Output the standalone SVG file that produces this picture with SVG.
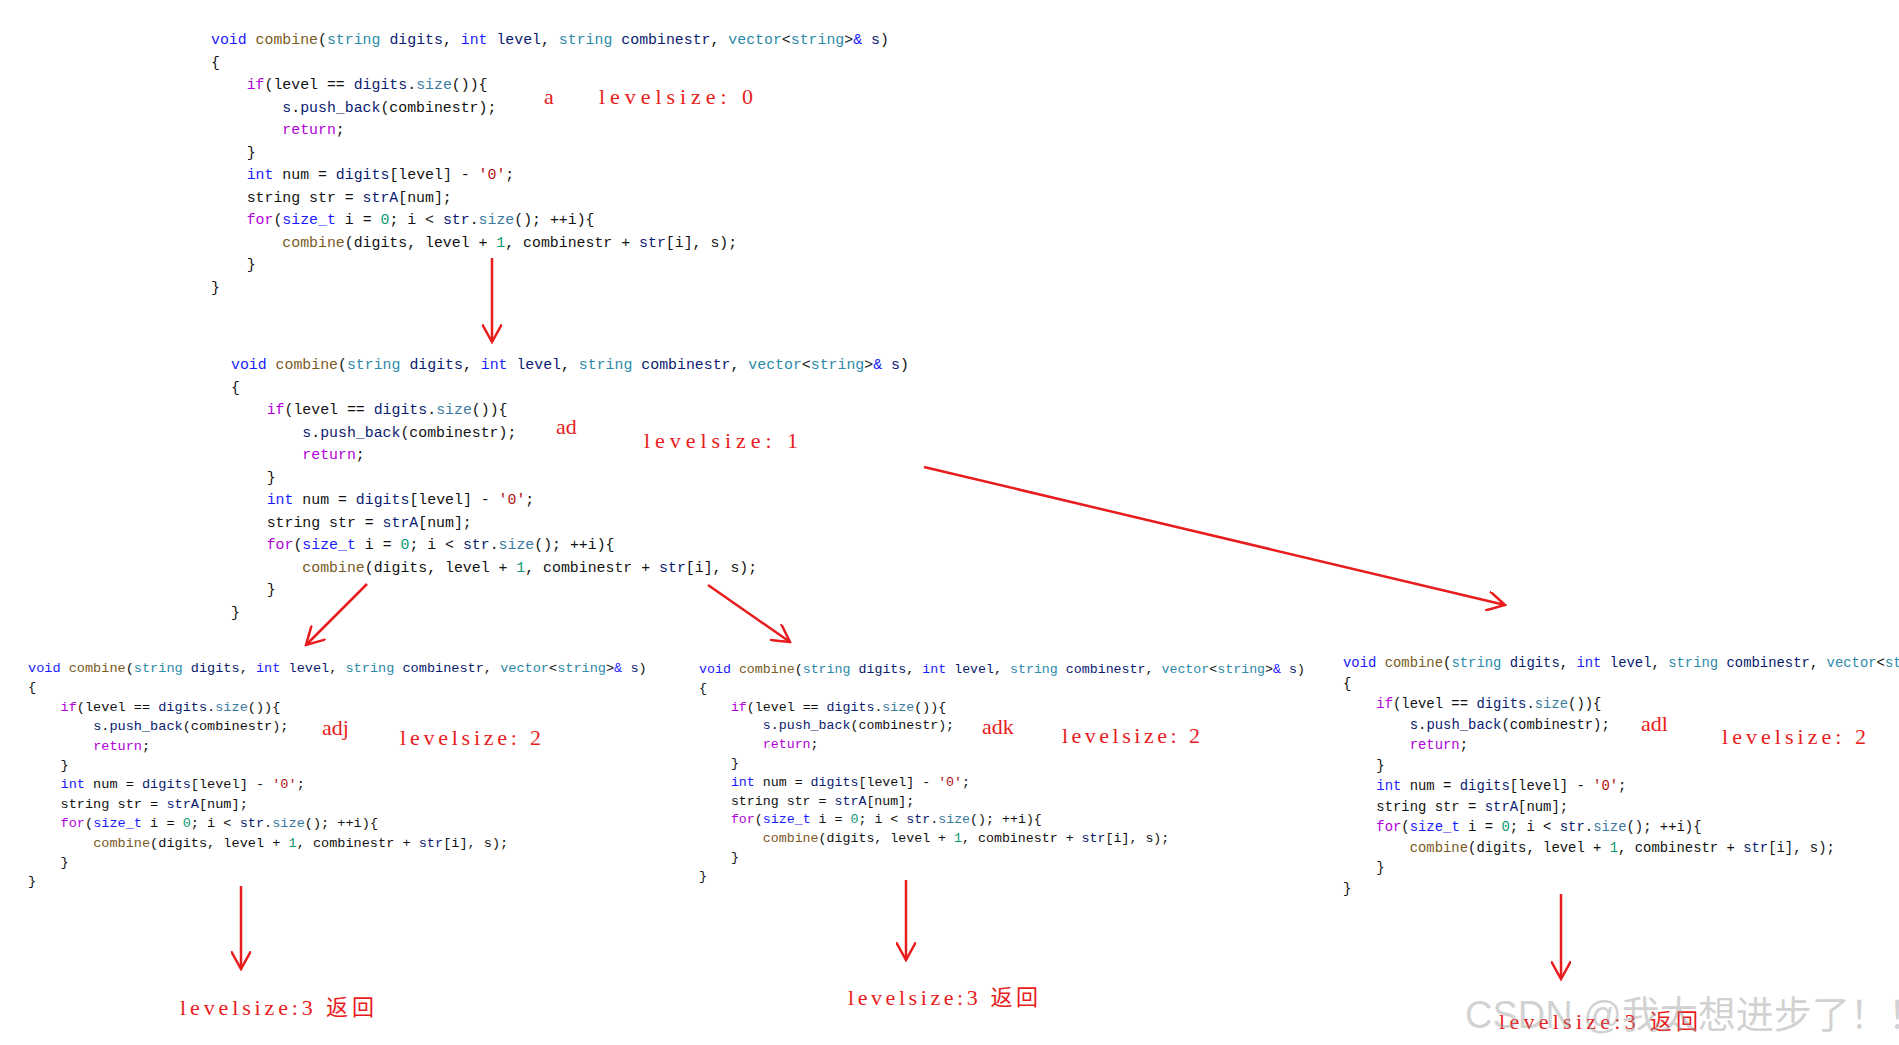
<svg xmlns="http://www.w3.org/2000/svg" width="1899" height="1045" viewBox="0 0 1899 1045">
<style>
.code text{font-family:"Liberation Mono",monospace;fill:#111;white-space:pre}
.k{fill:#1a1aff}.f{fill:#7a5a1e}.t{fill:#2b8aa8}.v{fill:#0a1a70}.c{fill:#b000d8}.n{fill:#0a9a70}.s{fill:#b01010}.z{fill:#3a7aa0}
.lbl{font-family:"Liberation Serif","Noto Sans CJK SC",serif;fill:#e81c1c;font-size:22px}
.arr{stroke:#e81c1c;stroke-width:2.5;fill:none}
</style>
<defs>
<marker id="ah" viewBox="0 0 20 20" refX="18" refY="10" markerWidth="20" markerHeight="20" markerUnits="userSpaceOnUse" orient="auto">
<polyline points="0,0 18,10 0,20" fill="none" stroke="#e81c1c" stroke-width="2.5"/>
</marker>
</defs>
<rect width="1899" height="1045" fill="#fff"/>

<g id="block1" class="code" transform="translate(211,44)" font-size="14.87" xml:space="preserve">
<text y="0"><tspan class="k">void</tspan> <tspan class="f">combine</tspan>(<tspan class="t">string</tspan> <tspan class="v">digits</tspan>, <tspan class="k">int</tspan> <tspan class="v">level</tspan>, <tspan class="t">string</tspan> <tspan class="v">combinestr</tspan>, <tspan class="t">vector</tspan>&lt;<tspan class="t">string</tspan>&gt;<tspan class="k">&amp;</tspan> <tspan class="v">s</tspan>)</text>
<text y="22.5">{</text>
<text y="45">    <tspan class="c">if</tspan>(level == <tspan class="v">digits</tspan>.<tspan class="z">size</tspan>()){</text>
<text y="67.5">        <tspan class="v">s</tspan>.<tspan class="v">push_back</tspan>(combinestr);</text>
<text y="90">        <tspan class="c">return</tspan>;</text>
<text y="112.5">    }</text>
<text y="135">    <tspan class="k">int</tspan> num = <tspan class="v">digits</tspan>[level] - <tspan class="s">'0'</tspan>;</text>
<text y="157.5">    string str = <tspan class="v">strA</tspan>[num];</text>
<text y="180">    <tspan class="c">for</tspan>(<tspan class="k">size_t</tspan> i = <tspan class="n">0</tspan>; i &lt; <tspan class="v">str</tspan>.<tspan class="z">size</tspan>(); ++i){</text>
<text y="202.5">        <tspan class="f">combine</tspan>(digits, level + <tspan class="n">1</tspan>, combinestr + <tspan class="v">str</tspan>[i], s);</text>
<text y="225">    }</text>
<text y="247.5">}</text>
</g>

<g id="block2" class="code" transform="translate(231,369)" font-size="14.87" xml:space="preserve">
<text y="0"><tspan class="k">void</tspan> <tspan class="f">combine</tspan>(<tspan class="t">string</tspan> <tspan class="v">digits</tspan>, <tspan class="k">int</tspan> <tspan class="v">level</tspan>, <tspan class="t">string</tspan> <tspan class="v">combinestr</tspan>, <tspan class="t">vector</tspan>&lt;<tspan class="t">string</tspan>&gt;<tspan class="k">&amp;</tspan> <tspan class="v">s</tspan>)</text>
<text y="22.5">{</text>
<text y="45">    <tspan class="c">if</tspan>(level == <tspan class="v">digits</tspan>.<tspan class="z">size</tspan>()){</text>
<text y="67.5">        <tspan class="v">s</tspan>.<tspan class="v">push_back</tspan>(combinestr);</text>
<text y="90">        <tspan class="c">return</tspan>;</text>
<text y="112.5">    }</text>
<text y="135">    <tspan class="k">int</tspan> num = <tspan class="v">digits</tspan>[level] - <tspan class="s">'0'</tspan>;</text>
<text y="157.5">    string str = <tspan class="v">strA</tspan>[num];</text>
<text y="180">    <tspan class="c">for</tspan>(<tspan class="k">size_t</tspan> i = <tspan class="n">0</tspan>; i &lt; <tspan class="v">str</tspan>.<tspan class="z">size</tspan>(); ++i){</text>
<text y="202.5">        <tspan class="f">combine</tspan>(digits, level + <tspan class="n">1</tspan>, combinestr + <tspan class="v">str</tspan>[i], s);</text>
<text y="225">    }</text>
<text y="247.5">}</text>
</g>

<g id="block3" class="code" transform="translate(28,672)" font-size="13.57" xml:space="preserve">
<text y="0"><tspan class="k">void</tspan> <tspan class="f">combine</tspan>(<tspan class="t">string</tspan> <tspan class="v">digits</tspan>, <tspan class="k">int</tspan> <tspan class="v">level</tspan>, <tspan class="t">string</tspan> <tspan class="v">combinestr</tspan>, <tspan class="t">vector</tspan>&lt;<tspan class="t">string</tspan>&gt;<tspan class="k">&amp;</tspan> <tspan class="v">s</tspan>)</text>
<text y="19.4">{</text>
<text y="38.8">    <tspan class="c">if</tspan>(level == <tspan class="v">digits</tspan>.<tspan class="z">size</tspan>()){</text>
<text y="58.2">        <tspan class="v">s</tspan>.<tspan class="v">push_back</tspan>(combinestr);</text>
<text y="77.6">        <tspan class="c">return</tspan>;</text>
<text y="97">    }</text>
<text y="116.4">    <tspan class="k">int</tspan> num = <tspan class="v">digits</tspan>[level] - <tspan class="s">'0'</tspan>;</text>
<text y="135.8">    string str = <tspan class="v">strA</tspan>[num];</text>
<text y="155.2">    <tspan class="c">for</tspan>(<tspan class="k">size_t</tspan> i = <tspan class="n">0</tspan>; i &lt; <tspan class="v">str</tspan>.<tspan class="z">size</tspan>(); ++i){</text>
<text y="174.6">        <tspan class="f">combine</tspan>(digits, level + <tspan class="n">1</tspan>, combinestr + <tspan class="v">str</tspan>[i], s);</text>
<text y="194">    }</text>
<text y="213.4">}</text>
</g>

<g id="block4" class="code" transform="translate(699,673)" font-size="13.29" xml:space="preserve">
<text y="0"><tspan class="k">void</tspan> <tspan class="f">combine</tspan>(<tspan class="t">string</tspan> <tspan class="v">digits</tspan>, <tspan class="k">int</tspan> <tspan class="v">level</tspan>, <tspan class="t">string</tspan> <tspan class="v">combinestr</tspan>, <tspan class="t">vector</tspan>&lt;<tspan class="t">string</tspan>&gt;<tspan class="k">&amp;</tspan> <tspan class="v">s</tspan>)</text>
<text y="18.8">{</text>
<text y="37.6">    <tspan class="c">if</tspan>(level == <tspan class="v">digits</tspan>.<tspan class="z">size</tspan>()){</text>
<text y="56.4">        <tspan class="v">s</tspan>.<tspan class="v">push_back</tspan>(combinestr);</text>
<text y="75.2">        <tspan class="c">return</tspan>;</text>
<text y="94">    }</text>
<text y="112.8">    <tspan class="k">int</tspan> num = <tspan class="v">digits</tspan>[level] - <tspan class="s">'0'</tspan>;</text>
<text y="131.6">    string str = <tspan class="v">strA</tspan>[num];</text>
<text y="150.4">    <tspan class="c">for</tspan>(<tspan class="k">size_t</tspan> i = <tspan class="n">0</tspan>; i &lt; <tspan class="v">str</tspan>.<tspan class="z">size</tspan>(); ++i){</text>
<text y="169.2">        <tspan class="f">combine</tspan>(digits, level + <tspan class="n">1</tspan>, combinestr + <tspan class="v">str</tspan>[i], s);</text>
<text y="188">    }</text>
<text y="206.8">}</text>
</g>

<g id="block5" class="code" transform="translate(1343,667)" font-size="13.9" xml:space="preserve">
<text y="0"><tspan class="k">void</tspan> <tspan class="f">combine</tspan>(<tspan class="t">string</tspan> <tspan class="v">digits</tspan>, <tspan class="k">int</tspan> <tspan class="v">level</tspan>, <tspan class="t">string</tspan> <tspan class="v">combinestr</tspan>, <tspan class="t">vector</tspan>&lt;<tspan class="t">st</tspan></text>
<text y="20.5">{</text>
<text y="41">    <tspan class="c">if</tspan>(level == <tspan class="v">digits</tspan>.<tspan class="z">size</tspan>()){</text>
<text y="61.5">        <tspan class="v">s</tspan>.<tspan class="v">push_back</tspan>(combinestr);</text>
<text y="82">        <tspan class="c">return</tspan>;</text>
<text y="102.5">    }</text>
<text y="123">    <tspan class="k">int</tspan> num = <tspan class="v">digits</tspan>[level] - <tspan class="s">'0'</tspan>;</text>
<text y="143.5">    string str = <tspan class="v">strA</tspan>[num];</text>
<text y="164">    <tspan class="c">for</tspan>(<tspan class="k">size_t</tspan> i = <tspan class="n">0</tspan>; i &lt; <tspan class="v">str</tspan>.<tspan class="z">size</tspan>(); ++i){</text>
<text y="184.5">        <tspan class="f">combine</tspan>(digits, level + <tspan class="n">1</tspan>, combinestr + <tspan class="v">str</tspan>[i], s);</text>
<text y="205">    }</text>
<text y="225.5">}</text>
</g>

<g id="labels">
<text class="lbl" x="544" y="104">a</text>
<text class="lbl" x="599" y="104" textLength="154">levelsize: 0</text>
<text class="lbl" x="556" y="434">ad</text>
<text class="lbl" x="644" y="448" textLength="154">levelsize: 1</text>
<text class="lbl" x="322" y="735">adj</text>
<text class="lbl" x="400" y="745" textLength="141">levelsize: 2</text>
<text class="lbl" x="982" y="734">adk</text>
<text class="lbl" x="1062" y="743" textLength="138">levelsize: 2</text>
<text class="lbl" x="1641" y="731">adl</text>
<text class="lbl" x="1722" y="744" textLength="144">levelsize: 2</text>
<text class="lbl" x="180" y="1015" textLength="194">levelsize:3  返回</text>
<text class="lbl" x="848" y="1005" textLength="190">levelsize:3  返回</text>
<text class="lbl" x="1499" y="1029" textLength="199">levelsize:3  返回</text>
</g>

<g id="connectors">
<line class="arr" x1="492" y1="258" x2="492" y2="342" marker-end="url(#ah)"/>
<line class="arr" x1="367" y1="584" x2="306" y2="645" marker-end="url(#ah)"/>
<line class="arr" x1="708" y1="585" x2="790" y2="642" marker-end="url(#ah)"/>
<line class="arr" x1="924" y1="467" x2="1505" y2="605" marker-end="url(#ah)"/>
<line class="arr" x1="241" y1="886" x2="241" y2="969" marker-end="url(#ah)"/>
<line class="arr" x1="906" y1="880" x2="906" y2="960" marker-end="url(#ah)"/>
<line class="arr" x1="1561" y1="894" x2="1561" y2="979" marker-end="url(#ah)"/>
</g>

<text x="1465" y="1028" font-family="Liberation Sans,Noto Sans CJK SC,sans-serif" font-size="38" fill="#999" fill-opacity="0.45">CSDN @我太想进步了！！</text>
</svg>
